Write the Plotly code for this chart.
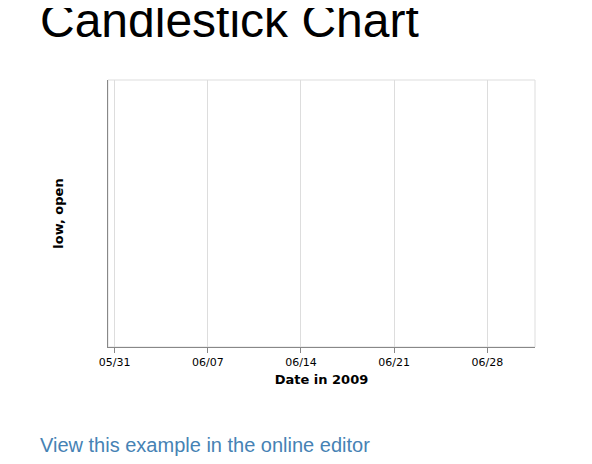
import plotly.graph_objects as go

dates = []
open_ = []
high = []
low = []
close = []
tick_vals = ["2009-05-31", "2009-06-07", "2009-06-14", "2009-06-21", "2009-06-28"]
tick_text = ["05/31", "06/07", "06/14", "06/21", "06/28"]

fig = go.Figure(go.Candlestick(x=dates, open=open_, high=high, low=low, close=close, showlegend=False))
fig.update_layout(
    width=592, height=464, margin=dict(l=100, r=65, t=72, b=125),
    paper_bgcolor="white", plot_bgcolor="white",
    font=dict(family="DejaVu Sans", color="black"),
    xaxis=dict(type="date", range=["2009-05-30T12:00", "2009-07-01T14:00"], tickvals=tick_vals, ticktext=tick_text,
               showgrid=True, gridcolor="#dddddd", ticks="outside", ticklen=5, tickcolor="#888",
               tickfont=dict(size=11), showline=True, linecolor="#888", mirror=False,
               rangeslider=dict(visible=False), zeroline=False,
               title=dict(text="<b>Date in 2009</b>", font=dict(size=13), standoff=6)),
    yaxis=dict(range=[0, 1], showticklabels=False, ticks="", showgrid=False, zeroline=False,
               showline=True, linecolor="#888",
               title=dict(text="<b>low, open</b>", font=dict(size=13), standoff=40)),
    shapes=[dict(type="rect", xref="paper", yref="paper", x0=0, x1=1, y0=0, y1=1,
                 line=dict(color="#dddddd", width=1), layer="below")],
    annotations=[
        dict(text="Candlestick Chart", xref="paper", yref="paper", x=-0.164, y=1.116, xanchor="left",
             yanchor="bottom", showarrow=False, font=dict(family="Liberation Sans", size=48)),
        dict(text="View this example in the online editor", xref="paper", yref="paper", x=-0.164,
             y=-0.367, xanchor="left", yanchor="middle", showarrow=False,
             font=dict(family="Liberation Sans", size=20, color="#4682b4")),
    ],
)
fig.write_html("out.html")
